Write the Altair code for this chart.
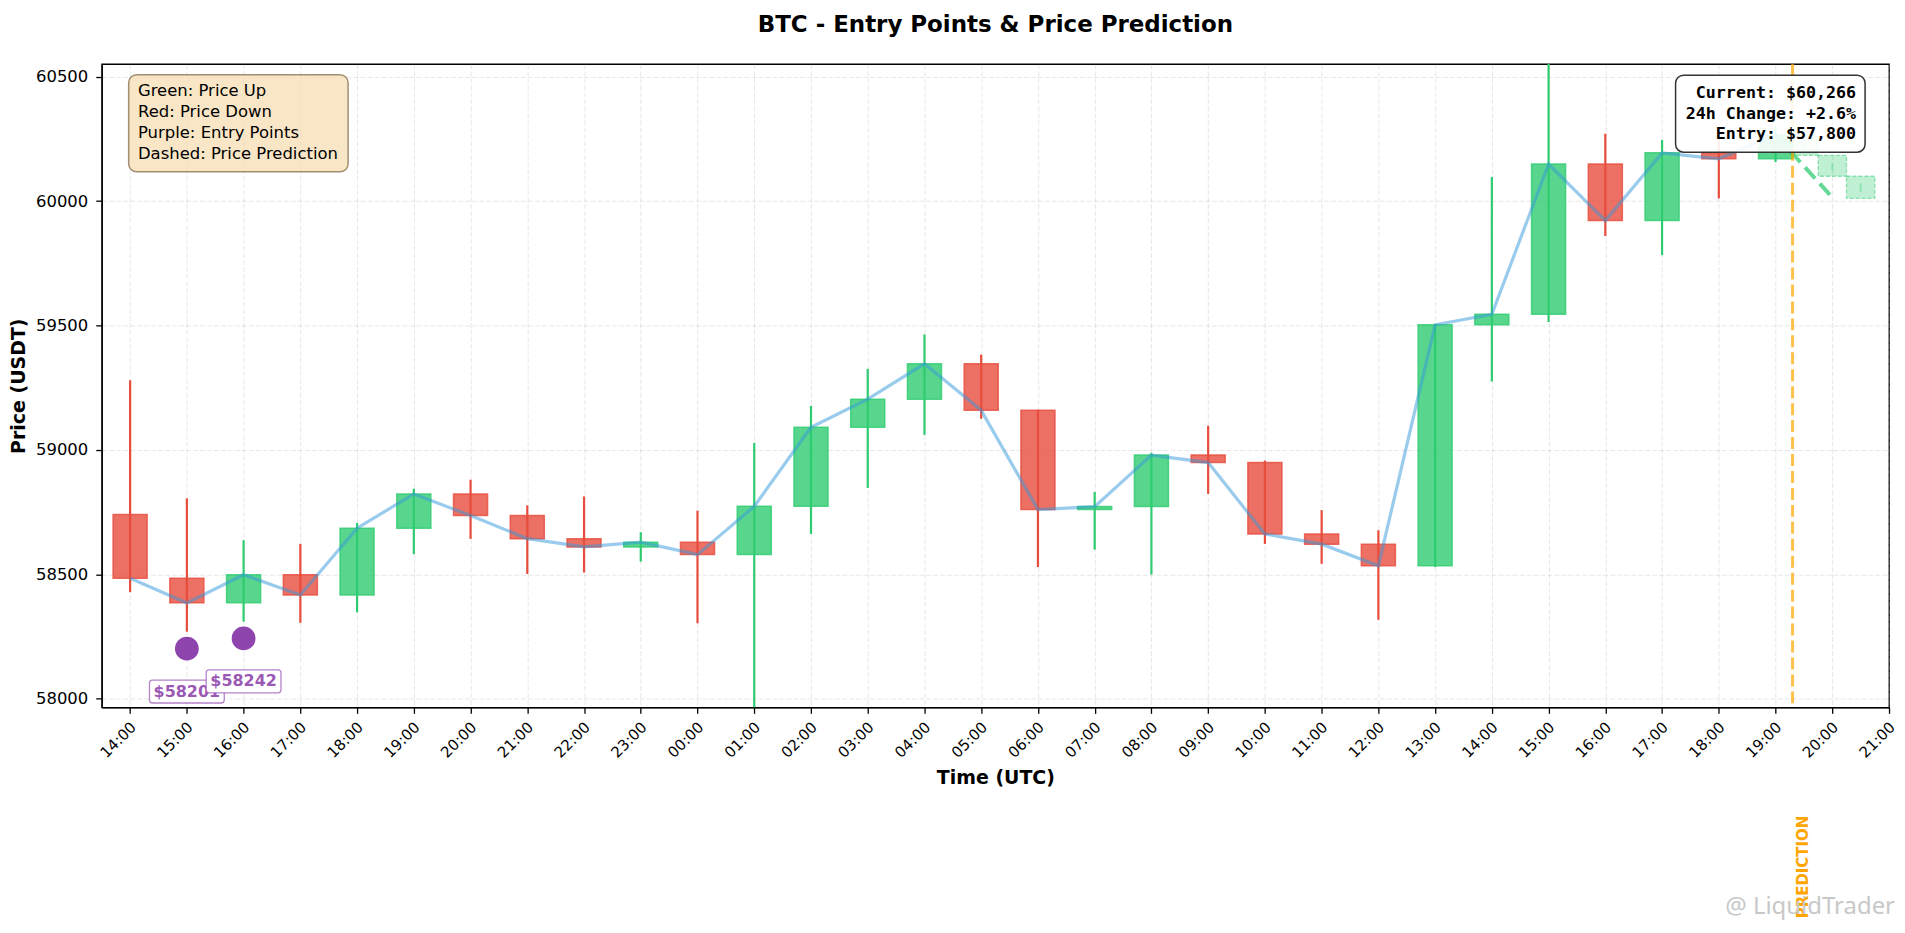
"""BTC hourly candles with entry points and a short price prediction (Altair)."""

import json

import altair as alt
import pandas as pd

GREEN = "#2ecc71"
RED = "#e74c3c"
BLUE = "#3498db"
PURPLE = "#8e44ad"
LABEL_PURPLE = "#9b59b6"
ORANGE = "#ffa500"
FONT = "DejaVu Sans"
MONO = "DejaVu Sans Mono"

# --- data ----------------------------------------------------------------
hour_labels = [
    "14:00", "15:00", "16:00", "17:00", "18:00", "19:00", "20:00", "21:00",
    "22:00", "23:00", "00:00", "01:00", "02:00", "03:00", "04:00", "05:00",
    "06:00", "07:00", "08:00", "09:00", "10:00", "11:00", "12:00", "13:00",
    "14:00", "15:00", "16:00", "17:00", "18:00", "19:00", "20:00", "21:00",
]
price_ticks = [58000, 58500, 59000, 59500, 60000, 60500]

# one candle per hour, index 0 = 14:00 (day 1) ... 29 = 19:00 (day 2)
candle_hour = list(range(30))
candle_open = [
    58740, 58484, 58385, 58498, 58417, 58685, 58823, 58736, 58643, 58610,
    58629, 58579, 58773, 59091, 59204, 59346, 59159, 58760, 58772, 58979,
    58949, 58662, 58621, 58534, 59503, 59545, 60149, 59922, 60194, 60170,
]
candle_high = [
    59280, 58805, 58637, 58622, 58706, 58844, 58880, 58777, 58813, 58669,
    58756, 59028, 59177, 59326, 59464, 59383, 59161, 58831, 58988, 59097,
    58957, 58758, 58677, 59506, 60097, 60551, 60271, 60246, 60268, 60300,
]
candle_low = [
    58428, 58269, 58309, 58305, 58347, 58581, 58642, 58501, 58507, 58551,
    58303, 57965, 58662, 58847, 59060, 59125, 58529, 58599, 58499, 58823,
    58622, 58542, 58317, 58529, 59275, 59514, 59860, 59783, 60011, 60157,
]
candle_close = [
    58484, 58385, 58498, 58417, 58685, 58823, 58736, 58643, 58610, 58629,
    58579, 58773, 59091, 59204, 59346, 59159, 58760, 58772, 58979, 58949,
    58662, 58621, 58534, 59503, 59545, 60149, 59922, 60194, 60170, 60266,
]

# predicted half-hour candles after "now"
pred_hour = [29.5, 30.0, 30.5]
pred_open = [60266, 60184, 60100]
pred_close = [60184, 60100, 60011]
pred_high = [60240, 60151, 60071]
pred_low = [60205, 60122, 60037]

trend_hour = [29, 30]
trend_price = [60266, 60015]

now_hour = 29.3

entry_hour = [1, 2]
entry_price = [58201, 58242]
entry_label = ["$58201", "$58242"]

legend_lines = [
    "Green: Price Up",
    "Red: Price Down",
    "Purple: Entry Points",
    "Dashed: Price Prediction",
]
info_lines = ["Current: $60,266", "24h Change: +2.6%", "Entry: $57,800"]

# --- frames ----------------------------------------------------------------
candles = pd.DataFrame({
    "hour": candle_hour,
    "open": candle_open,
    "high": candle_high,
    "low": candle_low,
    "close": candle_close,
})
candles["direction"] = [
    "up" if c >= o else "down" for o, c in zip(candle_open, candle_close)
]
pred = pd.DataFrame({
    "hour": pred_hour, "open": pred_open, "close": pred_close,
    "high": pred_high, "low": pred_low,
})
trend = pd.DataFrame({"hour": trend_hour, "price": trend_price})
now = pd.DataFrame({"hour": [now_hour]})
one = pd.DataFrame({"k": [0]})

# --- scales / axes ---------------------------------------------------------
x_scale = alt.Scale(domain=[-0.5, len(hour_labels) - 1], nice=False, zero=False)
y_scale = alt.Scale(domain=[57965, 60551], nice=False, zero=False)
x_axis = alt.Axis(
    title="Time (UTC)",
    values=list(range(len(hour_labels))),
    labelExpr=f"{json.dumps(hour_labels)}[datum.value]",
    labelAngle=-45,
    labelAlign="right",
    labelBaseline="top",
    labelFontSize=15,
    labelPadding=6,
    labelOffset=-2,
    labelFlush=False,
    labelOverlap=False,
    titlePadding=8,
)
y_axis = alt.Axis(
    title="Price (USDT)",
    values=price_ticks,
    format="d",
    labelFontSize=16.5,
    labelPadding=8,
    labelOverlap=False,
    titlePadding=7,
)
dir_scale = alt.Scale(domain=["up", "down"], range=[GREEN, RED])


def X(field):
    return alt.X(f"{field}:Q", scale=x_scale, axis=x_axis)


def Y(field):
    return alt.Y(f"{field}:Q", scale=y_scale, axis=y_axis)


# --- layers ----------------------------------------------------------------
bodies = (
    alt.Chart(candles)
    .transform_calculate(left="datum.hour - 0.3", right="datum.hour + 0.3")
    .mark_rect(fillOpacity=0.8, strokeOpacity=0.8, strokeWidth=1.5)
    .encode(
        x=X("left"), x2="right:Q", y=Y("open"), y2="close:Q",
        color=alt.Color("direction:N", scale=dir_scale, legend=None),
        stroke=alt.Stroke("direction:N", scale=dir_scale, legend=None),
    )
)
wicks = (
    alt.Chart(candles)
    .mark_rule(strokeWidth=2.2)
    .encode(
        x=X("hour"), y=Y("low"), y2="high:Q",
        color=alt.Color("direction:N", scale=dir_scale, legend=None),
    )
)
close_line = (
    alt.Chart(candles)
    .mark_line(color=BLUE, opacity=0.5, strokeWidth=3.2)
    .encode(x=X("hour"), y=Y("close"))
)
pred_boxes = (
    alt.Chart(pred)
    .transform_calculate(left="datum.hour - 0.25", right="datum.hour + 0.25")
    .mark_rect(fill=GREEN, fillOpacity=0.3, stroke=GREEN, strokeOpacity=0.5,
               strokeDash=[4, 2], strokeWidth=1.3)
    .encode(x=X("left"), x2="right:Q", y=Y("open"), y2="close:Q")
)
pred_wicks = (
    alt.Chart(pred)
    .mark_rule(color=GREEN, opacity=0.35, strokeWidth=2)
    .encode(x=X("hour"), y=Y("low"), y2="high:Q")
)
trend_line = (
    alt.Chart(trend)
    .mark_line(color=GREEN, opacity=0.75, strokeWidth=4, strokeDash=[15, 7])
    .encode(x=X("hour"), y=Y("price"))
)
now_rule = (
    alt.Chart(now)
    .mark_rule(color=ORANGE, opacity=0.7, strokeWidth=3, strokeDash=[12, 5])
    .encode(x=X("hour"))
)
now_text = (
    alt.Chart(now)
    .mark_text(text="PREDICTION", angle=270, align="left", baseline="middle",
               dy=10, color=ORANGE, font=FONT, fontWeight="bold", fontSize=15)
    .encode(x=X("hour"), y=alt.value(856.5))
)

entries = pd.DataFrame({"hour": entry_hour, "price": entry_price, "label": entry_label})
dots = (
    alt.Chart(entries)
    .mark_circle(size=570, color=PURPLE, opacity=1)
    .encode(x=X("hour"), y=Y("price"))
)
box_path = (
    "M-0.92,-0.307H0.92Q1,-0.307 1,-0.227V0.227Q1,0.307 0.92,0.307"
    "H-0.92Q-1,0.307 -1,0.227V-0.227Q-1,-0.307 -0.92,-0.307Z"
)
entry_layers = []
for i in range(len(entry_label)):
    row = entries.iloc[[i]]
    entry_layers.append(
        alt.Chart(row)
        .mark_point(shape=box_path, size=5625, filled=False, fill="white",
                    fillOpacity=1, stroke=LABEL_PURPLE, strokeOpacity=0.75,
                    strokeWidth=1.3, opacity=1, yOffset=43)
        .encode(x=X("hour"), y=Y("price"))
    )
    entry_layers.append(
        alt.Chart(row)
        .mark_text(color=LABEL_PURPLE, font=FONT, fontWeight="bold",
                   fontSize=16, baseline="middle", yOffset=43)
        .encode(x=X("hour"), y=Y("price"), text="label:N")
    )

legend_box = (
    alt.Chart(one)
    .mark_rect(fill="#f5deb3", fillOpacity=0.75, stroke="#8b7355",
               strokeOpacity=0.8, strokeWidth=1.5, cornerRadius=8)
    .encode(x=alt.value(27), x2=alt.value(247), y=alt.value(10.7), y2=alt.value(108))
)
legend_text = (
    alt.Chart(one)
    .mark_text(text=legend_lines, align="left", baseline="alphabetic",
               lineHeight=20.9, font=FONT, fontSize=16.5, color="black")
    .encode(x=alt.value(36.3), y=alt.value(32.3))
)
info_box = (
    alt.Chart(one)
    .mark_rect(fill="white", fillOpacity=0.9, stroke="#333333",
               strokeWidth=1.5, cornerRadius=8)
    .encode(x=alt.value(1578), x2=alt.value(1768), y=alt.value(11.1), y2=alt.value(88.4))
)
info_text = (
    alt.Chart(one)
    .mark_text(text=info_lines, align="right", baseline="alphabetic",
               lineHeight=20.65, font=MONO, fontWeight="bold", fontSize=16.7,
               color="black")
    .encode(x=alt.value(1759), y=alt.value(34.2))
)
watermark = (
    alt.Chart(one)
    .mark_text(text="@ LiquidTrader", align="right", baseline="alphabetic",
               font="Noto Sans", fontSize=24, color="#c8c8c8")
    .encode(x=alt.value(1798), y=alt.value(852))
)

chart = (
    alt.layer(
        pred_boxes, bodies, wicks, pred_wicks, close_line, trend_line,
        now_rule, dots, *entry_layers, legend_box, legend_text,
        info_box, info_text, now_text, watermark,
    )
    .properties(
        width=1792,
        height=645,
        title=alt.TitleParams(
            "BTC - Entry Points & Price Prediction",
            font=FONT, fontSize=23, fontWeight="bold", color="black",
            anchor="middle", baseline="alphabetic", offset=8,
        ),
        padding={"left": 94, "top": 55, "right": 8, "bottom": 212},
        autosize=alt.AutoSizeParams(type="none"),
    )
    .configure_view(stroke="black", strokeWidth=1.3)
    .configure_axis(
        grid=True,
        gridColor="#b0b0b0",
        gridOpacity=0.3,
        gridDash=[5, 2],
        gridWidth=1,
        domainColor="black",
        domainWidth=1.3,
        tickColor="black",
        tickWidth=1.3,
        tickSize=6,
        labelColor="black",
        labelFont=FONT,
        titleFont=FONT,
        titleColor="black",
        titleFontWeight="bold",
        titleFontSize=19,
    )
)

chart.save("out.html", embed_options={"renderer": "svg", "actions": False})
